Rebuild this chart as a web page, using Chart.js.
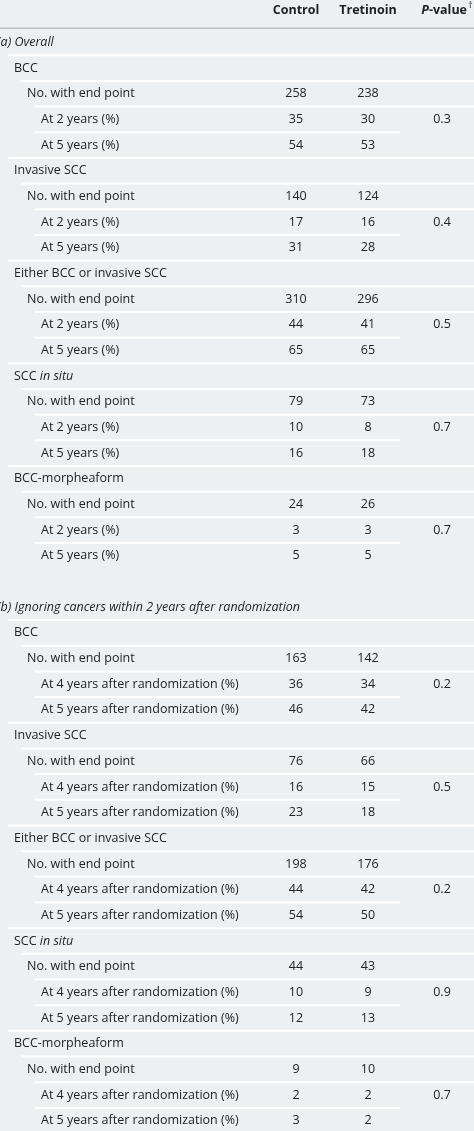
<!DOCTYPE html>
<html><head><meta charset="utf-8">
<script src="https://cdn.jsdelivr.net/npm/chart.js@4"></script>
<style>html,body{margin:0;padding:0;background:#edf0f2;}#wrap{width:474px;height:1131px;}</style>
</head><body><div id="wrap"><canvas id="tbl"></canvas></div>
<script>
// ----- Table data -----
const headers = ["Control", "Tretinoin", "P-value"];
const rowLabels = [
  "(a) Overall",
  "BCC", "No. with end point", "At 2 years (%)", "At 5 years (%)",
  "Invasive SCC", "No. with end point", "At 2 years (%)", "At 5 years (%)",
  "Either BCC or invasive SCC", "No. with end point", "At 2 years (%)", "At 5 years (%)",
  "SCC in situ", "No. with end point", "At 2 years (%)", "At 5 years (%)",
  "BCC-morpheaform", "No. with end point", "At 2 years (%)", "At 5 years (%)",
  "",
  "(b) Ignoring cancers within 2 years after randomization",
  "BCC", "No. with end point", "At 4 years after randomization (%)", "At 5 years after randomization (%)",
  "Invasive SCC", "No. with end point", "At 4 years after randomization (%)", "At 5 years after randomization (%)",
  "Either BCC or invasive SCC", "No. with end point", "At 4 years after randomization (%)", "At 5 years after randomization (%)",
  "SCC in situ", "No. with end point", "At 4 years after randomization (%)", "At 5 years after randomization (%)",
  "BCC-morpheaform", "No. with end point", "At 4 years after randomization (%)", "At 5 years after randomization (%)"
];
// 0 = section title, 1 = endpoint, 2 = count row, 3 = percent row, -1 = blank
const rowLevel = [0, 1,2,3,3, 1,2,3,3, 1,2,3,3, 1,2,3,3, 1,2,3,3, -1, 0, 1,2,3,3, 1,2,3,3, 1,2,3,3, 1,2,3,3, 1,2,3,3];
const controlVals = [null, null,258,35,54, null,140,17,31, null,310,44,65, null,79,10,16, null,24,3,5, null,
  null, null,163,36,46, null,76,16,23, null,198,44,54, null,44,10,12, null,9,2,3];
const tretinoinVals = [null, null,238,30,53, null,124,16,28, null,296,41,65, null,73,8,18, null,26,3,5, null,
  null, null,142,34,42, null,66,15,18, null,176,42,50, null,43,9,13, null,10,2,2];
const pValues = [null, null,null,0.3,null, null,null,0.4,null, null,null,0.5,null, null,null,0.7,null, null,null,0.7,null, null,
  null, null,null,0.2,null, null,null,0.5,null, null,null,0.2,null, null,null,0.9,null, null,null,0.7,null];

// ----- Table plugin -----
const FONT = "'Open Sans', Lato, sans-serif";
const SIZE = "12.5px ";
const indents = [-3, 14, 27, 41];
const colX = [296, 368, 442];

const tablePlugin = {
  id: "tableText",
  afterDraw(chart) {
    const c = chart.ctx, y = chart.scales.y;
    const W = chart.width;
    c.save();
    // header
    const hy = y.getPixelForValue(-1.25);
    c.font = "bold " + SIZE + FONT;
    c.fillStyle = "#222";
    c.textBaseline = "middle";
    c.textAlign = "center";
    c.fillText(headers[0], colX[0], hy);
    c.fillText(headers[1], colX[1], hy);
    c.textAlign = "right";
    c.fillText("-value", 467, hy);
    const vw = c.measureText("-value").width;
    c.font = "italic bold " + SIZE + FONT;
    c.fillText("P", 467 - vw, hy);
    c.textAlign = "left";
    c.font = "9px " + FONT;
    c.fillText("\u2020", 468, hy - 5);
    const hl = y.getPixelForValue(-0.55);
    c.strokeStyle = "#b9bec2"; c.lineWidth = 1.5;
    c.beginPath(); c.moveTo(0, hl); c.lineTo(W, hl); c.stroke();

    rowLabels.forEach((lab, i) => {
      const py = y.getPixelForValue(i);
      const lvl = rowLevel[i];
      // separator below row
      if (lvl >= 0 && i < rowLabels.length - 1 && rowLevel[i + 1] !== -1) {
        const ly = y.getPixelForValue(i + 0.5);
        c.strokeStyle = "#ffffff"; c.lineWidth = 2;
        const x0 = rowLevel[i + 1] === 0 ? 0 : indents[Math.max(1, rowLevel[i + 1])] - 6;
        c.beginPath(); c.moveTo(x0, ly); c.lineTo(pValues[i] !== null || rowLevel[i+1] === 3 && rowLevel[i] === 3 ? 400 : W, ly); c.stroke();
      }
      if (lvl < 0) return;
      c.fillStyle = "#222";
      c.textAlign = "left";
      if (lvl === 0) {
        c.font = "italic " + SIZE + FONT;
        c.fillText(lab, indents[0], py);
      } else if (lab === "SCC in situ") {
        c.font = SIZE + FONT;
        c.fillText("SCC ", indents[1], py);
        const w = c.measureText("SCC ").width;
        c.font = "italic " + SIZE + FONT;
        c.fillText("in situ", indents[1] + w, py);
      } else {
        c.font = SIZE + FONT;
        c.fillText(lab, indents[lvl], py);
      }
      c.font = SIZE + FONT;
      c.textAlign = "center";
      if (controlVals[i] !== null) c.fillText(String(controlVals[i]), colX[0], py);
      if (tretinoinVals[i] !== null) c.fillText(String(tretinoinVals[i]), colX[1], py);
      if (pValues[i] !== null) c.fillText(pValues[i].toFixed(1), colX[2], py);
    });
    c.restore();
  }
};

new Chart(document.getElementById("tbl"), {
  type: "scatter",
  data: { datasets: [{ data: [], pointRadius: 0 }] },
  options: {
    responsive: true,
    maintainAspectRatio: false,
    animation: false,
    layout: { padding: 0 },
    plugins: { legend: { display: false }, tooltip: { enabled: false } },
    scales: {
      x: { display: false, min: 0, max: 474 },
      y: { display: false, reverse: true, min: -1.65, max: 42.4 }
    }
  },
  plugins: [tablePlugin]
});
</script>
</body></html>
